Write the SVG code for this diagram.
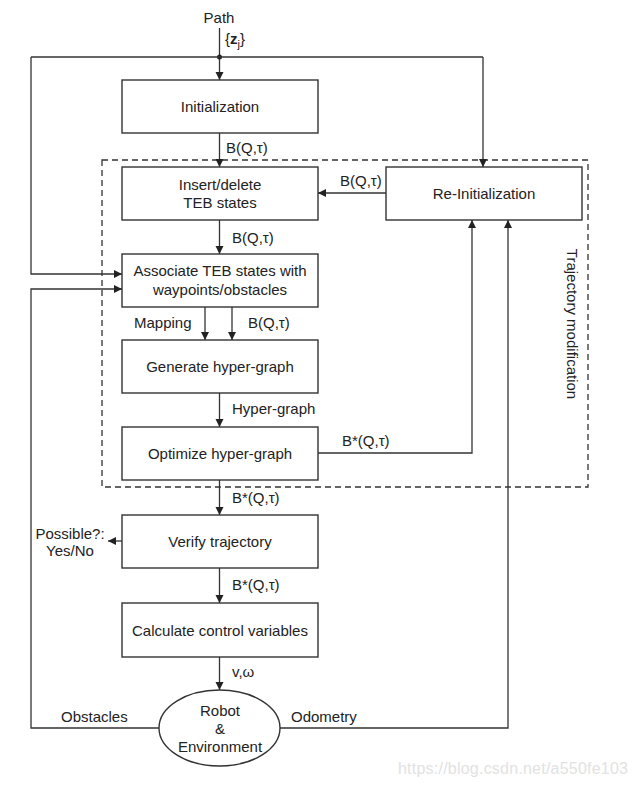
<svg xmlns="http://www.w3.org/2000/svg" width="639" height="785" viewBox="0 0 639 785">
<defs>
<marker id="ah" viewBox="0 0 10 10" refX="10" refY="5" markerWidth="8" markerHeight="10" markerUnits="userSpaceOnUse" orient="auto"><path d="M0,0 L10,5 L0,10 z" fill="#222"/></marker>
<style>
.box{fill:#fff;stroke:#333;stroke-width:1.4}
.ln{fill:none;stroke:#333;stroke-width:1.3}
.ar{fill:none;stroke:#333;stroke-width:1.3;marker-end:url(#ah)}
text{font-family:"Liberation Sans",Arial,sans-serif;font-size:15px;fill:#222}
.c{text-anchor:middle}
</style>
</defs>
<rect width="639" height="785" fill="#fff"/>
<rect x="102" y="160" width="486" height="327" fill="none" stroke="#333" stroke-width="1.3" stroke-dasharray="6,4"/>
<text class="c" transform="translate(567,324) rotate(90)">Trajectory modification</text>
<g id="connectors">
<path class="ar" d="M219.5,28 V80"/>
<circle cx="219.5" cy="57" r="2.5" fill="#222"/>
<path class="ln" d="M31,57 H483"/>
<path class="ar" d="M483,57 V167"/>
<path class="ar" d="M31,57 V274 H122"/>
<path class="ar" d="M219.5,133 V167"/>
<path class="ar" d="M386,193 H318"/>
<path class="ar" d="M219.5,220 V254"/>
<path class="ar" d="M205,307 V340"/>
<path class="ar" d="M232,307 V340"/>
<path class="ar" d="M219.5,393 V427"/>
<path class="ar" d="M318,453 H472 V220"/>
<path class="ar" d="M219.5,480 V515"/>
<path class="ar" d="M122,541 H108"/>
<path class="ar" d="M219.5,568 V603"/>
<path class="ar" d="M219.5,657 V690"/>
<path class="ar" d="M159,728 H31 V289 H122"/>
<path class="ar" d="M280,728 H508 V220"/>
</g>
<text class="c" x="219" y="23">Path</text>
<text x="225" y="44">{<tspan font-weight="bold">z</tspan><tspan font-size="11" dy="4">j</tspan><tspan dy="-4">}</tspan></text>
<text x="226" y="153">B(Q,τ)</text>
<text x="340" y="186">B(Q,τ)</text>
<text x="232" y="243">B(Q,τ)</text>
<text x="134" y="328">Mapping</text>
<text x="248" y="328">B(Q,τ)</text>
<text x="232" y="414">Hyper-graph</text>
<text x="342" y="446">B*(Q,τ)</text>
<text x="232" y="503">B*(Q,τ)</text>
<text x="232" y="590">B*(Q,τ)</text>
<text x="232" y="677">v,ω</text>
<text class="c" x="70" y="539">Possible?:</text>
<text class="c" x="70" y="556">Yes/No</text>
<text x="61" y="722">Obstacles</text>
<text x="291" y="722">Odometry</text>
<g id="init"><rect class="box" x="122" y="80" width="196" height="53"/><text class="c" x="220" y="112">Initialization</text></g>
<g id="insert"><rect class="box" x="122" y="167" width="196" height="53"/><text class="c" x="220" y="190">Insert/delete</text><text class="c" x="220" y="208">TEB states</text></g>
<g id="reinit"><rect class="box" x="386" y="167" width="196" height="53"/><text class="c" x="484" y="199">Re-Initialization</text></g>
<g id="associate"><rect class="box" x="122" y="254" width="196" height="53"/><text class="c" x="220" y="276">Associate TEB states with</text><text class="c" x="220" y="295">waypoints/obstacles</text></g>
<g id="generate"><rect class="box" x="122" y="340" width="196" height="53"/><text class="c" x="220" y="372">Generate hyper-graph</text></g>
<g id="optimize"><rect class="box" x="122" y="427" width="196" height="53"/><text class="c" x="220" y="459">Optimize hyper-graph</text></g>
<g id="verify"><rect class="box" x="122" y="515" width="196" height="53"/><text class="c" x="220" y="547">Verify trajectory</text></g>
<g id="calculate"><rect class="box" x="122" y="603" width="196" height="54"/><text class="c" x="220" y="636">Calculate control variables</text></g>
<g id="robot"><ellipse cx="219.5" cy="728" rx="60.5" ry="38" fill="#fff" stroke="#333" stroke-width="1.4"/><text class="c" x="220" y="716">Robot</text><text class="c" x="220" y="734">&amp;</text><text class="c" x="220" y="752">Environment</text></g>
<text x="398" y="774" textLength="230" style="font-size:16px;fill:#e2e2e2">https://blog.csdn.net/a550fe103</text>
</svg>
